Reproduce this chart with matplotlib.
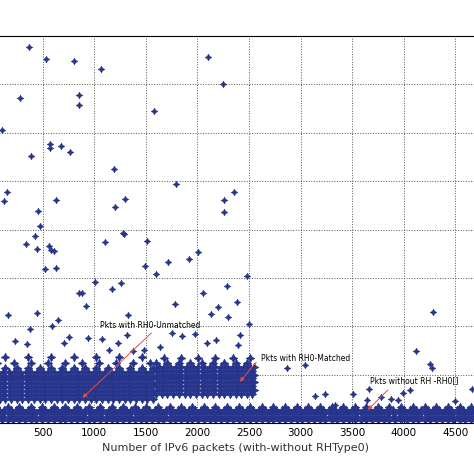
import matplotlib
matplotlib.use("Agg")
import matplotlib.pyplot as plt

# sparse points (x, y)
sparse_x = [368,535,800,1070,2107,2252,284,857,857,1579,103,570,570,677,761,387,1193,1792,2358,2259,2262,
            152,126,625,1295,1205,451,477,425,335,442,558,577,609,522,625,1276,1290,1102,1514,1495,1595,1714,
            1917,2005,2484,1012,1176,1257,854,877,2053,2291,
            922,442,165,1328,1785,2198,2133,2300,2381,2503,4282,648,593,377,232,345,754,706,938,1080,1227,1318,
            1141,1376,1486,1633,1753,1850,1978,2091,2181,2413,2397,2865,3042,4114,4257,4276,3663,3509,3138,3235,
            3783,3879,3944,4491,4662,4056,3992,3638,3332]
sparse_y = [7.78,7.52,7.48,7.31,7.56,7.0,6.71,6.78,6.57,6.45,6.05,5.76,5.68,5.72,5.6,5.51,5.25,4.95,4.77,4.62,4.36,
            4.77,4.58,4.61,4.64,4.46,4.39,4.07,3.86,3.71,3.59,3.66,3.57,3.56,3.18,3.21,3.92,3.9,3.74,3.77,3.24,3.07,3.32,
            3.39,3.53,3.04,2.91,2.78,2.89,2.68,2.69,2.68,2.83,
            2.42,2.28,2.23,2.23,2.47,2.40,2.25,2.2,2.51,2.05,2.30,2.13,2.0,1.94,1.69,1.63,1.78,1.65,1.75,1.74,1.65,1.82,
            1.51,1.49,1.51,1.58,1.87,1.8,1.85,1.65,1.71,1.82,1.61,1.13,1.2,1.49,1.22,1.13,0.70,0.6,0.56,0.6,
            0.53,0.49,0.48,0.46,0.7,0.68,0.61,0.48,0.37]

band_a1 = [20,75,130,190,240,300,355,410,470,520,580,635,690,745,800,860,910,970,1025,1080,1140,1195,1250,1305,
           1360,1420,1475,1530,1590,1640,1700,1755,1810,1870,1920,1980,2035,2090,2150,2200,2260,2315,2370,2430,
           2485,2540,2600,2650,2710,2765,2820,2880,2935,2990,3045,3100,3160,3215,3270,3330,3385,3440,3500,3550,
           3610,3665,3720,3780,3835,3890,3950,4000,4060,4115,4170,4230,4285,4340,4400,4455,4510,4570,4625,4680]
band_a2 = [45,105,160,215,270,330,385,440,495,555,610,665,720,775,835,890,945,1000,1055,1115,1170,1225,1280,1335,
           1395,1450,1505,1560,1615,1670,1730,1785,1840,1895,1950,2010,2065,2120,2175,2230,2290,2345,2400,2455,
           2510,2570,2625,2680,2735,2790,2850,2905,2960,3015,3070,3130,3185,3240,3300,3355,3410,3465,3525,3580,
           3635,3690,3750,3805,3860,3915,3975,4030,4085,4140,4200,4255,4310,4370,4425,4480,4540,4595,4650]
band_b1 = [10,60,115,170,225,280,335,390,445,500,555,610,665,720,775,830,885,940,995,1050,1105,1160,1215,1270,
           1325,1380,1435,1490,1545]
band_b2 = [35,90,140,195,250,305,360,415,470,525,580,635,690,745,800,855,910,965,1020,1075,1130,1185,1240,1295,
           1350,1405,1460,1515,1570]
band_c1 = [1600,1655,1710,1765,1820,1875,1930,1985,2040,2095,2150,2205,2260,2315,2370,2425,2480,2530]
band_c2 = [1625,1680,1735,1790,1845,1900,1955,2010,2065,2120,2175,2230,2285,2340,2395,2450,2505,2545]

rows_a = [(0.06, band_a2), (0.13, band_a1), (0.20, band_a2), (0.27, band_a1), (0.34, band_a2[::2])]
rows_b = [(0.50, band_b2), (0.58, band_b1), (0.66, band_b2), (0.74, band_b1), (0.82, band_b2), (0.90, band_b1),
          (0.98, band_b2), (1.06, band_b1), (1.14, band_b2[::2]), (1.24, band_b1[1::3]), (1.36, band_b2[2::4])]
rows_c = [(0.60, band_c1), (0.68, band_c2), (0.76, band_c1), (0.84, band_c2), (0.92, band_c1), (1.0, band_c2),
          (1.08, band_c1), (1.16, band_c2), (1.24, band_c1[::2]), (1.34, band_c2[1::3])]

color = "#27348b"
fig = plt.figure(figsize=(4.74, 4.74), dpi=100)
ax = fig.add_axes([-0.019, 0.1076, 1.03, 0.8164])
mk = dict(marker=(4, 1, 0), color=color, linestyle="none", markersize=5, markeredgewidth=0.3)
mk_band = dict(mk, markersize=6.5)
for y, xs in rows_a + rows_b + rows_c:
    ax.plot(xs, [y] * len(xs), **mk_band)
ax.plot(sparse_x, sparse_y, **mk)

ax.set_xlim(0, 4730)
ax.set_ylim(0, 8)
ax.set_xticks([500,1000,1500,2000,2500,3000,3500,4000,4500])
ax.set_yticks(range(0, 9))
ax.set_yticklabels([])
ax.tick_params(labelsize=7.5, direction="in", length=3)
ax.grid(True, linestyle=":", color="#555555", linewidth=0.7)
ax.set_xlabel("Number of IPv6 packets (with-without RHType0)", fontsize=8, color="#333333")

arr = dict(arrowstyle="-|>", color="#e05040", lw=0.7, mutation_scale=6)
ax.annotate("", xy=(867, 0.48), xytext=(1573, 1.9), arrowprops=arr)
ax.text(1060, 2.02, "Pkts with RH0-Unmatched", fontsize=5.5, va="center", ha="left")
ax.annotate("", xy=(2394, 0.81), xytext=(2587, 1.3), arrowprops=arr)
ax.text(2616, 1.34, "Pkts with RH0-Matched", fontsize=5.5, va="center", ha="left")
ax.annotate("", xy=(3631, 0.23), xytext=(3863, 0.72), arrowprops=arr)
ax.text(3670, 0.87, "Pkts without RH -RH0[]", fontsize=5.5, va="center", ha="left")

fig.savefig("out.png", dpi=100)
